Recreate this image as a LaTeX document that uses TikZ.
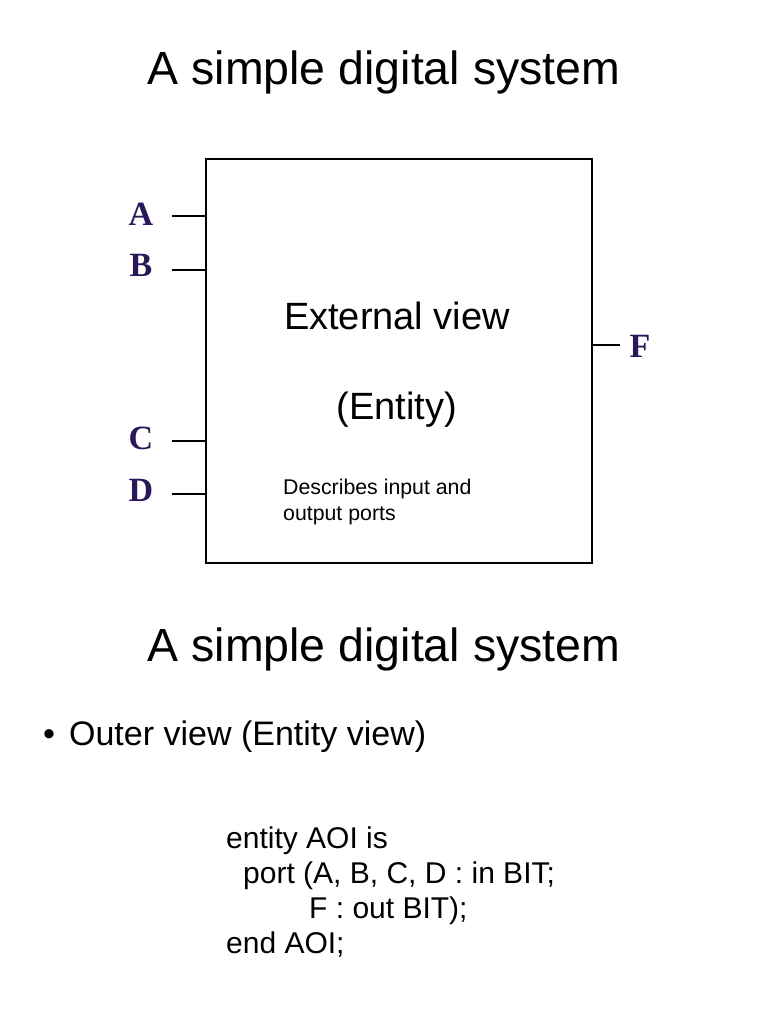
\documentclass[tikz,border=0pt]{standalone}
\usepackage{fontspec}
\setmainfont{Liberation Sans}
\newfontfamily\serifport{Liberation Serif}
\definecolor{portc}{HTML}{2A1858}
\begin{document}
\begin{tikzpicture}[x=1pt,y=-1pt,
  title/.style={font=\fontsize{46.5}{52}\selectfont},
  port/.style={font=\serifport\bfseries\fontsize{34}{38}\selectfont, text=portc},
  wire/.style={line width=1.5pt}]
\useasboundingbox (0,0) rectangle (768,1024);
\node[title] (t1) at (384,72) {A simple digital system};
\node[draw,line width=2.5pt,minimum width=386,minimum height=404] (box) at (399,361) {};
\node[port] (A) at (141,214) {A};
\node[port] (B) at (141,265) {B};
\node[port] (C) at (141,438) {C};
\node[port] (D) at (141,490) {D};
\node[port] (F) at (640,346) {F};
\coordinate (a1) at (206,216); \coordinate (a0) at (172,216);
\coordinate (b1) at (206,270); \coordinate (b0) at (172,270);
\coordinate (c1) at (206,441); \coordinate (c0) at (172,441);
\coordinate (d1) at (206,494); \coordinate (d0) at (172,494);
\coordinate (f1) at (592,345); \coordinate (f0) at (620,345);
\draw[wire] (a0) -- (a1); \draw[wire] (b0) -- (b1);
\draw[wire] (c0) -- (c1); \draw[wire] (d0) -- (d1);
\draw[wire] (f1) -- (f0);
\node[font=\fontsize{38}{44}\selectfont] (ev) at (397,316) {External view};
\node[font=\fontsize{38}{44}\selectfont] (en) at (397,410) {(Entity)};
\node[font=\fontsize{21.3}{26}\selectfont,anchor=north west,align=left,inner sep=0] (desc) at (283,479) {Describes input and\\output ports};
\node[title] (t2) at (384,649) {A simple digital system};
\node[font=\fontsize{34}{40}\selectfont,anchor=west,inner sep=0] (bul) at (43,737) {•\hspace{14pt}Outer view (Entity view)};
\node[font=\fontsize{30}{35}\selectfont,anchor=north west,align=left,inner sep=0] (code) at (226,827)
{entity AOI is\\\hspace{17pt}port (A, B, C, D : in BIT;\\\hspace{83pt}F : out BIT);\\end AOI;};
\end{tikzpicture}
\end{document}
